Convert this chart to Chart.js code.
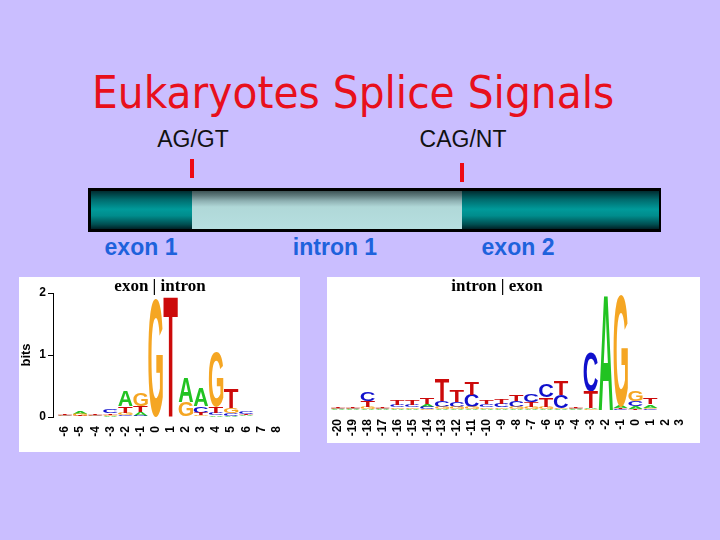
<!DOCTYPE html>
<html>
<head>
<meta charset="utf-8">
<script src="https://cdn.jsdelivr.net/npm/chart.js@4.4.0/dist/chart.umd.min.js"></script>
<style>
  body { margin: 0; width: 720px; height: 540px; background: #cabeff; position: relative; overflow: hidden;
         font-family: "Liberation Sans", Arial, sans-serif; }
  .abs { position: absolute; }
  #title { left: 92px; top: 71px; font-family: "DejaVu Sans", sans-serif; font-size: 44px; line-height: 44px;
           color: #e8101c; white-space: nowrap; transform-origin: 0 0; }
  .site { font-size: 23px; color: #111; white-space: nowrap; transform: translateX(-50%); top: 126px; }
  .tick { background: #ee0a14; width: 4px; }
  .part { font-size: 23px; font-weight: bold; color: #1e62dc; white-space: nowrap; transform: translateX(-50%); top: 234px; }
  #gene { left: 88px; top: 188px; width: 573px; height: 44px; background: #000; }
  .exon { top: 3px; height: 38px; background: linear-gradient(to bottom, #002c30 0%, #006a6c 22%, #009a9a 48%, #008c8c 65%, #004e50 88%, #002226 100%); }
  .intron { top: 3px; height: 38px; background: linear-gradient(to bottom, #3e5456 0%, #5f7a7c 12%, #8eb0b2 26%, #b0d8d8 42%, #b6dfe0 100%); }
  .panel { background: #fff; }
</style>
</head>
<body>
<div id="title" class="abs">Eukaryotes Splice Signals</div>

<div class="abs site" style="left:193px">AG/GT</div>
<div class="abs site" style="left:463px">CAG/NT</div>
<div class="abs tick" style="left:190px;top:159px;height:19px"></div>
<div class="abs tick" style="left:460px;top:163px;height:19px"></div>

<div id="gene" class="abs">
  <div class="abs exon" style="left:3px;width:101px"></div>
  <div class="abs intron" style="left:104px;width:270px"></div>
  <div class="abs exon" style="left:374px;width:197px"></div>
</div>

<div class="abs part" style="left:141px">exon 1</div>
<div class="abs part" style="left:335px">intron 1</div>
<div class="abs part" style="left:518px">exon 2</div>

<div class="abs panel" style="left:19px;top:277px;width:281px;height:175px">
  <canvas id="donor" width="281" height="175"></canvas>
</div>
<div class="abs panel" style="left:327px;top:277px;width:373px;height:166px">
  <canvas id="acceptor" width="373" height="166"></canvas>
</div>

<script>
// 5' splice site (exon | intron), information in bits per letter
const donorPos = [-6, -5, -4, -3, -2, -1, 0, 1, 2, 3, 4, 5, 6, 7, 8];
const donorTicks = ["-6", "-5", "-4", "-3", "-2", "-1", "0", "1", "2", "3", "4", "5", "6", "7", "8"];
const donorA = [0.01, 0.05, 0.01, 0.02, 0.24, 0.06, 0.00, 0.00, 0.40, 0.29, 0.03, 0.02, 0.02, 0, 0];
const donorC = [0.01, 0.01, 0.01, 0.07, 0.03, 0.02, 0.00, 0.00, 0.00, 0.10, 0.04, 0.05, 0.03, 0, 0];
const donorG = [0.01, 0.03, 0.01, 0.02, 0.04, 0.20, 1.93, 0.00, 0.24, 0.03, 0.89, 0.08, 0.01, 0, 0];
const donorT = [0.01, 0.01, 0.01, 0.02, 0.10, 0.10, 0.00, 1.95, 0.00, 0.04, 0.10, 0.32, 0.02, 0, 0];

// 3' splice site (intron | exon)
const accPos = [-20, -19, -18, -17, -16, -15, -14, -13, -12, -11, -10, -9, -8, -7, -6, -5, -4, -3, -2, -1, 0, 1, 2, 3];
const accTicks = ["-20", "-19", "-18", "-17", "-16", "-15", "-14", "-13", "-12", "-11", "-10", "-9", "-8", "-7",
                  "-6", "-5", "-4", "-3", "-2", "-1", "0", "1", "2", "3"];
const accA = [0.01, 0.01, 0.02, 0.01, 0.02, 0.02, 0.04, 0.02, 0.02, 0.02, 0.02, 0.02, 0.02, 0.02, 0.02, 0.01, 0.01, 0.02, 1.86, 0.03, 0.05, 0.05, 0, 0];
const accC = [0.01, 0.01, 0.15, 0.01, 0.04, 0.04, 0.03, 0.10, 0.08, 0.20, 0.05, 0.06, 0.10, 0.12, 0.20, 0.22, 0.01, 0.63, 0.00, 0.01, 0.08, 0.02, 0, 0];
const accG = [0.01, 0.01, 0.03, 0.01, 0.02, 0.02, 0.02, 0.03, 0.03, 0.03, 0.02, 0.02, 0.03, 0.03, 0.03, 0.02, 0.01, 0.01, 0.00, 1.80, 0.16, 0.02, 0, 0];
const accT = [0.01, 0.01, 0.10, 0.02, 0.08, 0.08, 0.10, 0.35, 0.18, 0.20, 0.06, 0.08, 0.10, 0.08, 0.15, 0.23, 0.01, 0.26, 0.00, 0.02, 0.02, 0.10, 0, 0];

const bitTicks = [0, 1, 2];
const letterColors = { A: "#22c322", C: "#1010cc", G: "#f5a623", T: "#cc0a0a" };

// fit the title to the slide width
const titleEl = document.getElementById("title");
titleEl.style.transform = "scaleX(" + (522 / titleEl.offsetWidth) + ")";

// stack letters per column, smallest at the bottom
function logoDatasets(pos, heights) {
  const letters = Object.keys(heights);
  const ranges = {};
  letters.forEach(l => (ranges[l] = []));
  pos.forEach((p, j) => {
    const order = letters.slice().sort((a, b) => heights[a][j] - heights[b][j]);
    let acc = 0;
    order.forEach(l => {
      ranges[l].push({ x: p, y: [acc, acc + heights[l][j]] });
      acc += heights[l][j];
    });
  });
  return letters.map(l => ({
    label: l,
    data: ranges[l],
    letterColor: letterColors[l],
    backgroundColor: "rgba(0,0,0,0)",
    borderWidth: 0,
    grouped: false,
    barPercentage: 0.96,
    categoryPercentage: 1
  }));
}

function drawLetter(ctx, ch, color, left, top, w, h) {
  ctx.save();
  ctx.font = 'bold 100px "Liberation Sans", Arial, sans-serif';
  const m = ctx.measureText(ch);
  const gw = m.actualBoundingBoxLeft + m.actualBoundingBoxRight;
  const gh = m.actualBoundingBoxAscent + m.actualBoundingBoxDescent;
  ctx.translate(left, top);
  ctx.scale(w / gw, h / gh);
  ctx.fillStyle = color;
  ctx.textAlign = "left";
  ctx.textBaseline = "alphabetic";
  ctx.fillText(ch, m.actualBoundingBoxLeft, m.actualBoundingBoxAscent);
  ctx.restore();
}

const logoLetters = {
  id: "logoLetters",
  afterDatasetsDraw(chart) {
    const ctx = chart.ctx;
    chart.data.datasets.forEach((ds, i) => {
      chart.getDatasetMeta(i).data.forEach(bar => {
        const { x, y, base, width } = bar.getProps(["x", "y", "base", "width"], true);
        const h = Math.abs(base - y);
        if (h < 0.6) return;
        drawLetter(ctx, ds.label, ds.letterColor, x - width / 2, Math.min(y, base), width, h);
      });
    });
  }
};

const panelTitle = {
  id: "panelTitle",
  afterDraw(chart, args, opts) {
    const ctx = chart.ctx;
    ctx.save();
    ctx.font = 'bold 17px "Liberation Serif", "Times New Roman", serif';
    ctx.fillStyle = "#000";
    ctx.textAlign = "center";
    ctx.textBaseline = "middle";
    ctx.fillText(opts.text, opts.x, opts.y);
    ctx.restore();
  }
};

const tickFont = { family: '"Liberation Sans", Arial, sans-serif', size: 12, weight: "bold" };

function xAxis(min, max, pos, labels, height) {
  return {
    type: "linear",
    min: min,
    max: max,
    offset: false,
    afterBuildTicks: s => { s.ticks = pos.map(v => ({ value: v })); },
    afterFit: s => { s.height = height; },
    grid: { display: false },
    border: { display: false },
    ticks: {
      autoSkip: false,
      minRotation: 90,
      maxRotation: 90,
      padding: 1,
      color: "#000",
      font: tickFont,
      callback: (v, i) => labels[i]
    }
  };
}

new Chart(document.getElementById("donor"), {
  type: "bar",
  data: { datasets: logoDatasets(donorPos, { A: donorA, C: donorC, G: donorG, T: donorT }) },
  options: {
    responsive: false,
    animation: false,
    layout: { padding: { top: 16, right: 16, left: 0, bottom: 0 } },
    scales: {
      x: xAxis(-6.8, 8.5, donorPos, donorTicks, 35),
      y: {
        min: 0,
        max: 2,
        afterBuildTicks: s => { s.ticks = bitTicks.map(v => ({ value: v })); },
        afterFit: s => { s.width = 34; },
        grid: { drawOnChartArea: false, drawTicks: true, tickLength: 5, color: "#000" },
        border: { display: true, color: "#000", width: 1 },
        ticks: { color: "#000", font: tickFont, padding: 2 },
        title: { display: true, text: "bits", color: "#000", padding: { top: 0, bottom: 2 },
                 font: { family: '"Liberation Sans", Arial, sans-serif', size: 13, weight: "bold" } }
      }
    },
    plugins: {
      legend: { display: false },
      tooltip: { enabled: false },
      panelTitle: { text: "exon | intron", x: 141, y: 10 }
    }
  },
  plugins: [logoLetters, panelTitle]
});

new Chart(document.getElementById("acceptor"), {
  type: "bar",
  data: { datasets: logoDatasets(accPos, { A: accA, C: accC, G: accG, T: accT }) },
  options: {
    responsive: false,
    animation: false,
    layout: { padding: { top: 9, right: 8, left: 0, bottom: 0 } },
    scales: {
      x: xAxis(-20.74, 3.8, accPos, accTicks, 33),
      y: { display: false, min: 0, max: 2 }
    },
    plugins: {
      legend: { display: false },
      tooltip: { enabled: false },
      panelTitle: { text: "intron | exon", x: 170, y: 10 }
    }
  },
  plugins: [logoLetters, panelTitle]
});
</script>
</body>
</html>
